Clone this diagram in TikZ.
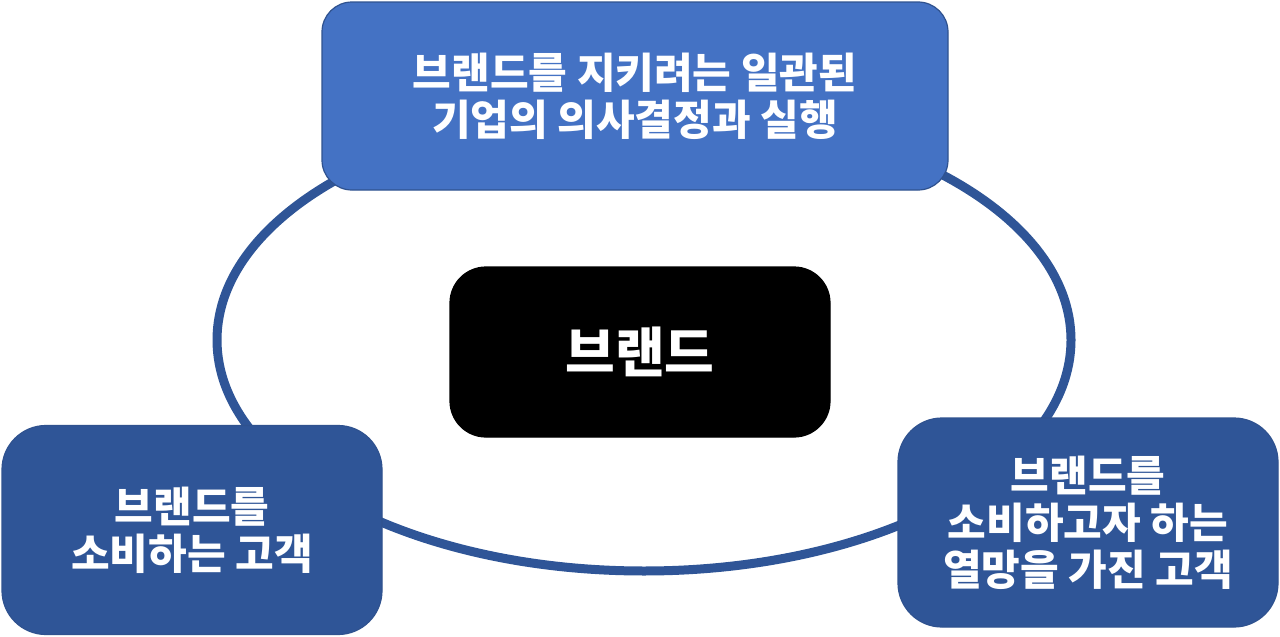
\documentclass[tikz,border=0pt]{standalone}
\usepackage{fontspec}
\newfontfamily\kofont{Noto Sans CJK KR}
\definecolor{topBlue}{HTML}{4472C4}
\definecolor{darkBlue}{HTML}{2F5597}
\definecolor{edgeBlue}{HTML}{2F528F}
\tikzset{
  box/.style={draw=edgeBlue, line width=1.2pt, text=white, align=center, inner sep=0pt,
    font=\kofont\bfseries\fontsize{42}{47}\selectfont},
  sidebox/.style={box, fill=darkBlue, minimum width=380pt, minimum height=209pt, rounded corners=44pt},
  ring/.style={draw=darkBlue, line width=9pt}
}
\begin{document}
\begin{tikzpicture}[x=1pt,y=-1pt]
% Parameters
\def\ringX{644};
\def\ringY{340};
\def\ringA{427};
\def\ringB{231};

\useasboundingbox (0,0) rectangle (1280,637);
\fill[white] (0,0) rectangle (1280,637);

% Ring
\coordinate (ringC) at (\ringX,\ringY);
\draw[ring] (ringC) ellipse [x radius=\ringA, y radius=\ringB];

% Boxes
\node[box, fill=topBlue, minimum width=626pt, minimum height=188pt, rounded corners=30pt] (company) at (635,96)
  {브랜드를 지키려는 일관된\\기업의 의사결정과 실행};
\node[box, draw=black, fill=black, minimum width=380pt, minimum height=170pt, rounded corners=36pt,
  font=\kofont\bfseries\fontsize{54}{60}\selectfont] (brand) at (640,352) {브랜드};
\node[sidebox] (buyer) at (192,530) {브랜드를\\소비하는 고객};
\node[sidebox] (wisher) at (1088,522.5) {브랜드를\\소비하고자 하는\\열망을 가진 고객};

\end{tikzpicture}
\end{document}
